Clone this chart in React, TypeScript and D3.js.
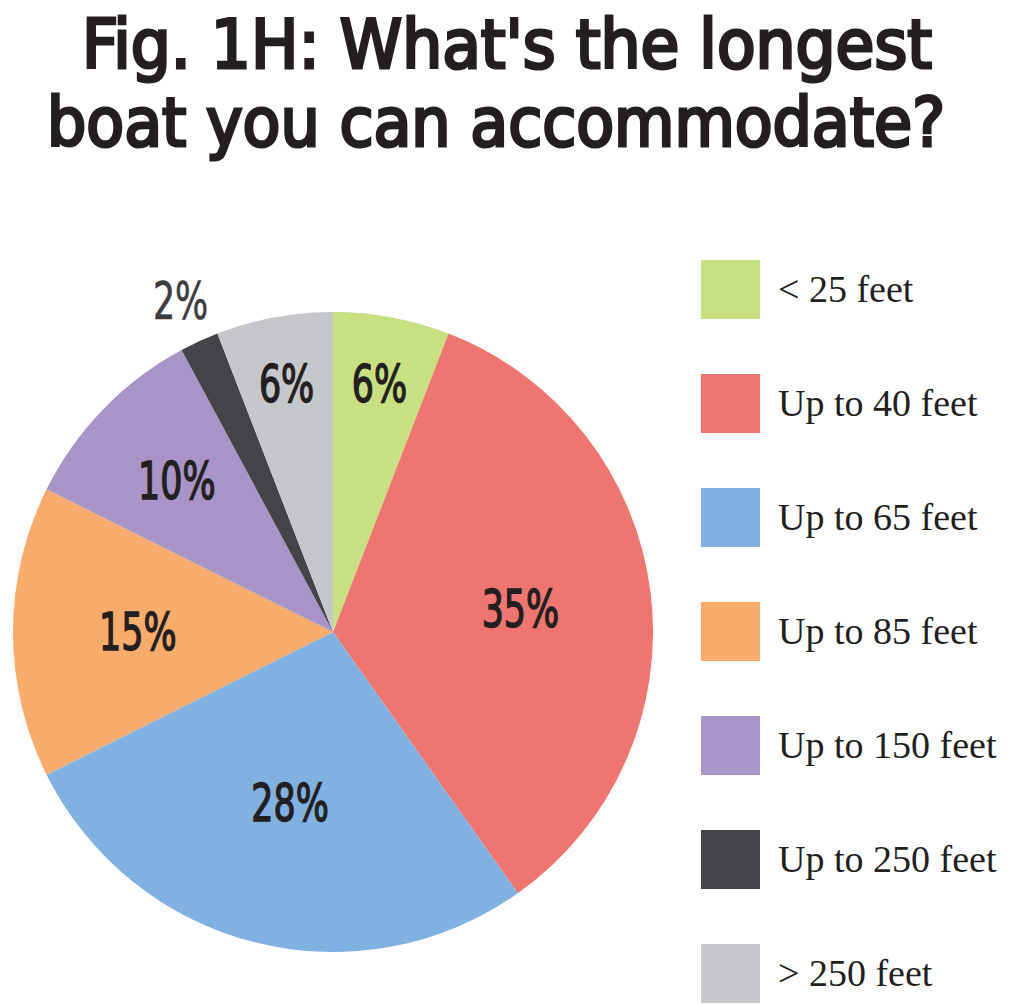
import React from 'react';
import * as d3 from 'd3';

// survey answers, clockwise from 12 o'clock
const categories = [
  '< 25 feet',
  'Up to 40 feet',
  'Up to 65 feet',
  'Up to 85 feet',
  'Up to 150 feet',
  'Up to 250 feet',
  '> 250 feet',
];
const shares = [6, 35, 28, 15, 10, 2, 6];
const sliceColors = ['#c8df82', '#ef7670', '#80b1e1', '#f8ac6c', '#a894c7', '#444347', '#c5c7ca'];
// how far out each percent label sits (fraction of radius)
const labelRadius = [0.79, 0.59, 0.55, 0.61, 0.68, 1.14, 0.79];

const titleLines = ["Fig. 1H: What's the longest", 'boat you can accommodate?'];

const W = 1024;
const H = 1004;
const cx = 333;
const cy = 632;
const R = 320;

const condensed = '"DejaVu Sans Condensed", "DejaVu Sans", sans-serif';
const serif = '"Liberation Serif", "DejaVu Serif", serif';

const App = () => {
  const pie = d3
    .pie<number>()
    .sort(null)
    .value(d => d)
    .startAngle(0)
    .endAngle(2 * Math.PI);
  const arcs = pie(shares);
  const arc = d3.arc<d3.PieArcDatum<number>>().innerRadius(0).outerRadius(R);

  const legendY = d3.scaleBand<number>().domain(d3.range(categories.length)).range([260, 260 + 114 * 7]);

  return (
    <svg width={W} height={H} style={{position: 'absolute', left: 0, top: 0, background: '#fff'}}>
      {/* title */}
      {titleLines.map((t, i) => (
        <text
          key={t}
          x={i === 0 ? 82 : 47}
          y={i === 0 ? 68 : 146}
          fontFamily={condensed}
          fontSize={68}
          fill="#231f20"
          stroke="#231f20"
          strokeWidth={3}
          textLength={i === 0 ? 850 : 898}
          lengthAdjust="spacingAndGlyphs"
        >
          {t}
        </text>
      ))}

      {/* pie */}
      <g transform={`translate(${cx},${cy})`}>
        {arcs.map((a, i) => (
          <path key={i} d={arc(a) || ''} fill={sliceColors[i]} />
        ))}
        {arcs.map((a, i) => {
          const mid = (a.startAngle + a.endAngle) / 2;
          const r = R * labelRadius[i];
          const x = Math.sin(mid) * r;
          const y = -Math.cos(mid) * r;
          const col = i === 5 ? '#3d3c40' : '#231f20';
          return (
            <text
              key={i}
              transform={`translate(${x},${y}) scale(0.76,1)`}
              textAnchor="middle"
              dy="0.36em"
              fontFamily={condensed}
              fontSize={51}
              fill={col}
              stroke={col}
              strokeWidth={i === 5 ? 0.6 : 1.4}
            >
              {`${shares[i]}%`}
            </text>
          );
        })}
      </g>

      {/* legend */}
      {categories.map((c, i) => {
        const top = legendY(i) as number;
        return (
          <g key={c}>
            <rect x={701} y={top} width={59} height={59} fill={sliceColors[i]} />
            <text x={778} y={top + 42} fontFamily={serif} fontSize={38} fill="#231f20">
              {c}
            </text>
          </g>
        );
      })}
    </svg>
  );
};

export default App;
